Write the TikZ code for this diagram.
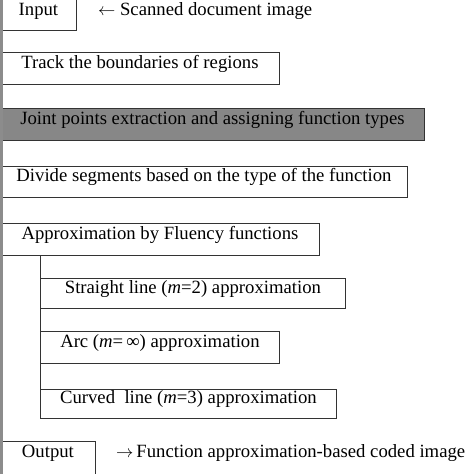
\documentclass[tikz,border=0pt]{standalone}
\usepackage{fontspec}
\setmainfont{Liberation Serif}
\begin{document}
\begin{tikzpicture}[x=1pt,y=-1pt,
  every node/.style={font=\fontsize{18.7}{20}\selectfont},
  box/.style={draw=black!80, line width=0.9pt, inner sep=0pt, anchor=north west},
  bar/.style={draw=black!45, line width=2.6pt},
  conn/.style={draw=black!80, line width=0.9pt}]
\useasboundingbox (0,0) rectangle (474,474);
\fill[white] (0,0) rectangle (474,474);
% boxes: minimum width, half-height via text height/depth
\node[box, minimum width=76pt, text height=17.5pt, text depth=15pt] (input) at (0,-2.5) {Input};
\node[box, minimum width=279pt, text height=16pt, text depth=16pt] (track) at (0,52) {Track the boundaries of regions};
\node[box, fill=black!47, minimum width=424pt, text height=16pt, text depth=16pt] (joint) at (0,108) {Joint points extraction and assigning function types};
\node[box, minimum width=407pt, text height=15.5pt, text depth=15.5pt] (divide) at (0,166) {Divide segments based on the type of the function};
\node[box, minimum width=319pt, text height=16pt, text depth=16pt] (approx) at (0,223) {Approximation by Fluency functions};
\node[box, minimum width=305pt, text height=15pt, text depth=15pt] (straight) at (40,278) {Straight line (\textit{m}=2) approximation};
\node[box, minimum width=239pt, text height=16pt, text depth=16pt] (arc) at (40,331) {Arc (\textit{m}=\,∞) approximation};
\node[box, minimum width=296pt, text height=14.5pt, text depth=14.5pt] (curved) at (40,389) {Curved\ \ line (\textit{m}=3) approximation};
\node[box, minimum width=95pt, text height=16pt, text depth=18pt] (output) at (0,441) {Output};
% annotations
\node[anchor=base west, inner sep=0pt] (inlabel) at ([xshift=21pt]input.base east) {$\leftarrow$ Scanned document image};
\node[anchor=base west, inner sep=0pt] (outlabel) at ([xshift=20pt]output.base east) {$\rightarrow$\,Function approximation-based coded image};
% connectors
\coordinate (bartop) at (1.5,0);
\coordinate (barbot) at (1.5,474);
\draw[bar] (bartop) -- (barbot);
\draw[conn] (approx.south west -| straight.west) -- (curved.south west);
\end{tikzpicture}
\end{document}
